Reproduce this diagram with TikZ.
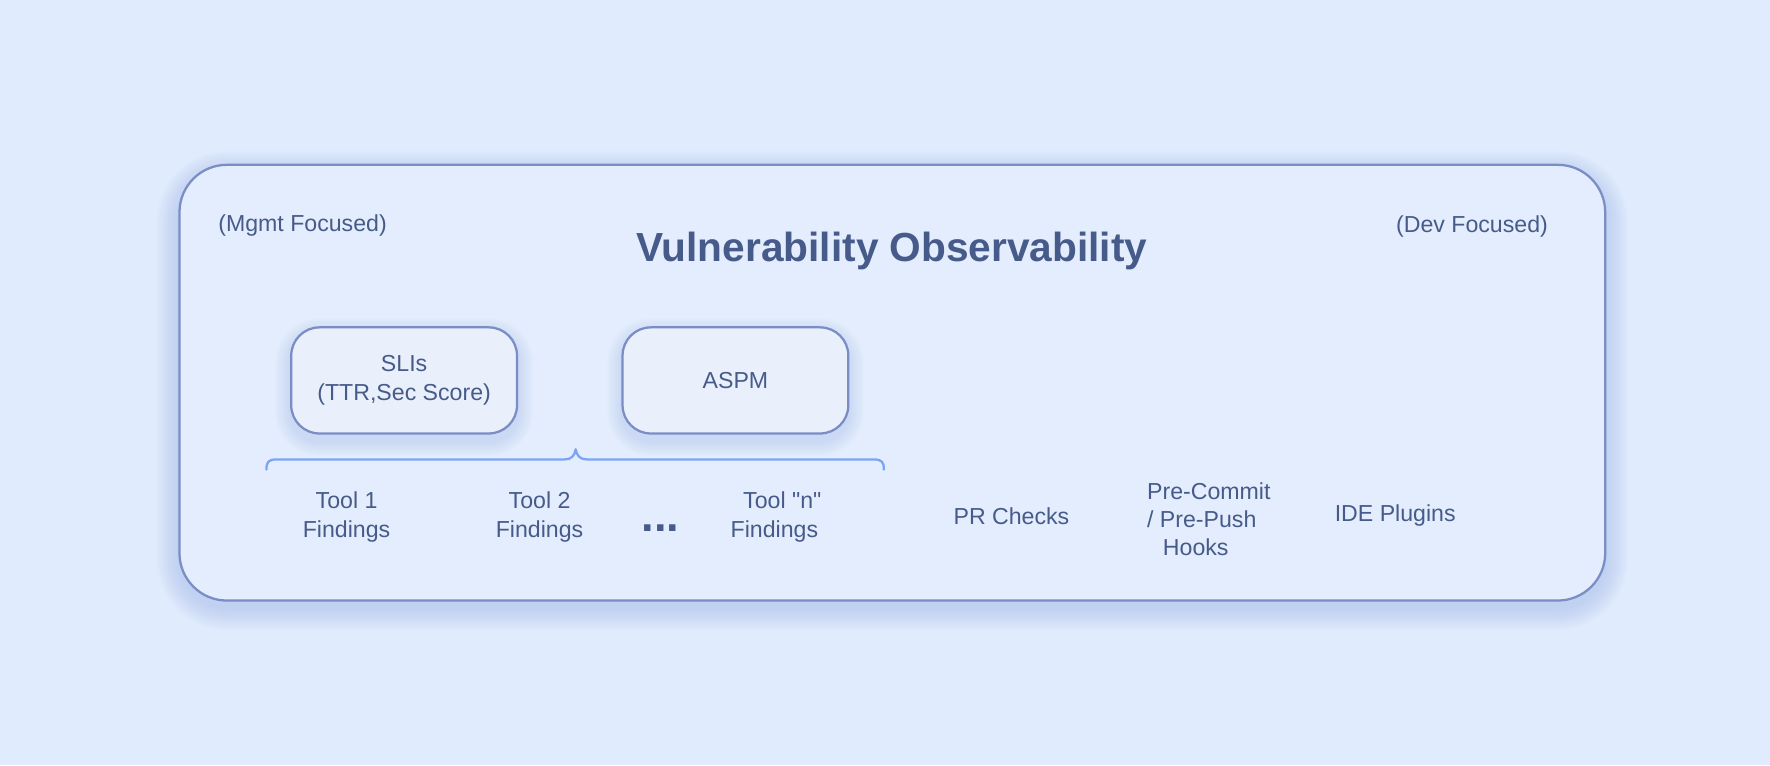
\documentclass[tikz,border=0pt]{standalone}
\usepackage{fontspec}
\setmainfont{Liberation Sans}[Ligatures=TeXOff]
\definecolor{bgc}{HTML}{E0EBFD}
\definecolor{panelc}{HTML}{E3EDFD}
\definecolor{boxc}{HTML}{E9F0FC}
\definecolor{edgec}{HTML}{7A8DC5}
\definecolor{bracec}{HTML}{7BA4F5}
\definecolor{txtc}{HTML}{475B8A}
\definecolor{shadc}{HTML}{8FA8E0}
\tikzset{
  lbl/.style={text=txtc, inner sep=0pt, align=center, font=\fontsize{20.5}{25}\selectfont},
  lblleft/.style={lbl, align=left},
  card/.style={draw=edgec, line width=2pt, fill=boxc, rounded corners=25pt,
    minimum width=200pt, minimum height=94pt, inner sep=0pt, text=txtc,
    align=center, font=\fontsize{20.5}{25}\selectfont},
  panel/.style={draw=edgec, line width=2pt, fill=panelc, rounded corners=42pt},
  softshadow/.style={fill=shadc, fill opacity=0.04, draw=none},
  bracestyle/.style={draw=bracec, line width=2pt, line cap=round, line join=round},
}
\begin{document}
\begin{tikzpicture}[x=1pt, y=-1pt]
\fill[bgc] (0,0) rectangle (1568,678);
\useasboundingbox (0,0) rectangle (1568,678);
% panel shadow
\foreach \i in {2,4,...,20} {
  \path[softshadow, rounded corners=42pt+\i pt] (159-\i,146-\i+8) rectangle (1422+\i,532+\i+6);
}
\path[panel] (159,146) rectangle (1422,532);
% card shadows
\foreach \i in {2,4,...,14} {
  \path[softshadow, rounded corners=25pt+\i pt] (258-\i,290-\i+6) rectangle (458+\i,384+\i+6);
  \path[softshadow, rounded corners=25pt+\i pt] (552-\i,290-\i+6) rectangle (751+\i,384+\i+6);
}
% title and side labels
\node[lbl, font=\fontsize{36}{40}\selectfont\bfseries] (title) at (790,222) {Vulnerability Observability};
\node[lbl] (mgmt) at (268,200) {(Mgmt Focused)};
\node[lbl] (dev) at (1304,201) {(Dev Focused)};
% cards
\node[card] (slis) at (358,337) {SLIs\\(TTR,Sec Score)};
\node[card] (aspm) at (651.5,337) {ASPM};
% brace
\draw[bracestyle] (236,416) .. controls (236,409) and (238,407) .. (245,407)
  -- (500,407) .. controls (506,407) and (509,404) .. (510,398)
  .. controls (511,404) and (514,407) .. (520,407)
  -- (774,407) .. controls (781,407) and (783,409) .. (783,416);
% tools
\node[lbl] (tool1) at (307,458) {Tool 1\\Findings};
\node[lbl] (tool2) at (478,458) {Tool 2\\Findings};
\node[lbl, font=\fontsize{40}{40}\selectfont\bfseries] (dots) at (585,468) {...};
\node[lbl] (tooln) at (686,458) {\hspace*{14pt}Tool "n"\\Findings};
% dev side
\node[lbl] (pr) at (896,457) {PR Checks};
\node[lblleft, anchor=west] (hooks) at (1016,460) {Pre-Commit\\/ Pre-Push\\\hspace*{14pt}Hooks};
\node[lbl] (ide) at (1236,457) {IDE Plugins};
\end{tikzpicture}
\end{document}
